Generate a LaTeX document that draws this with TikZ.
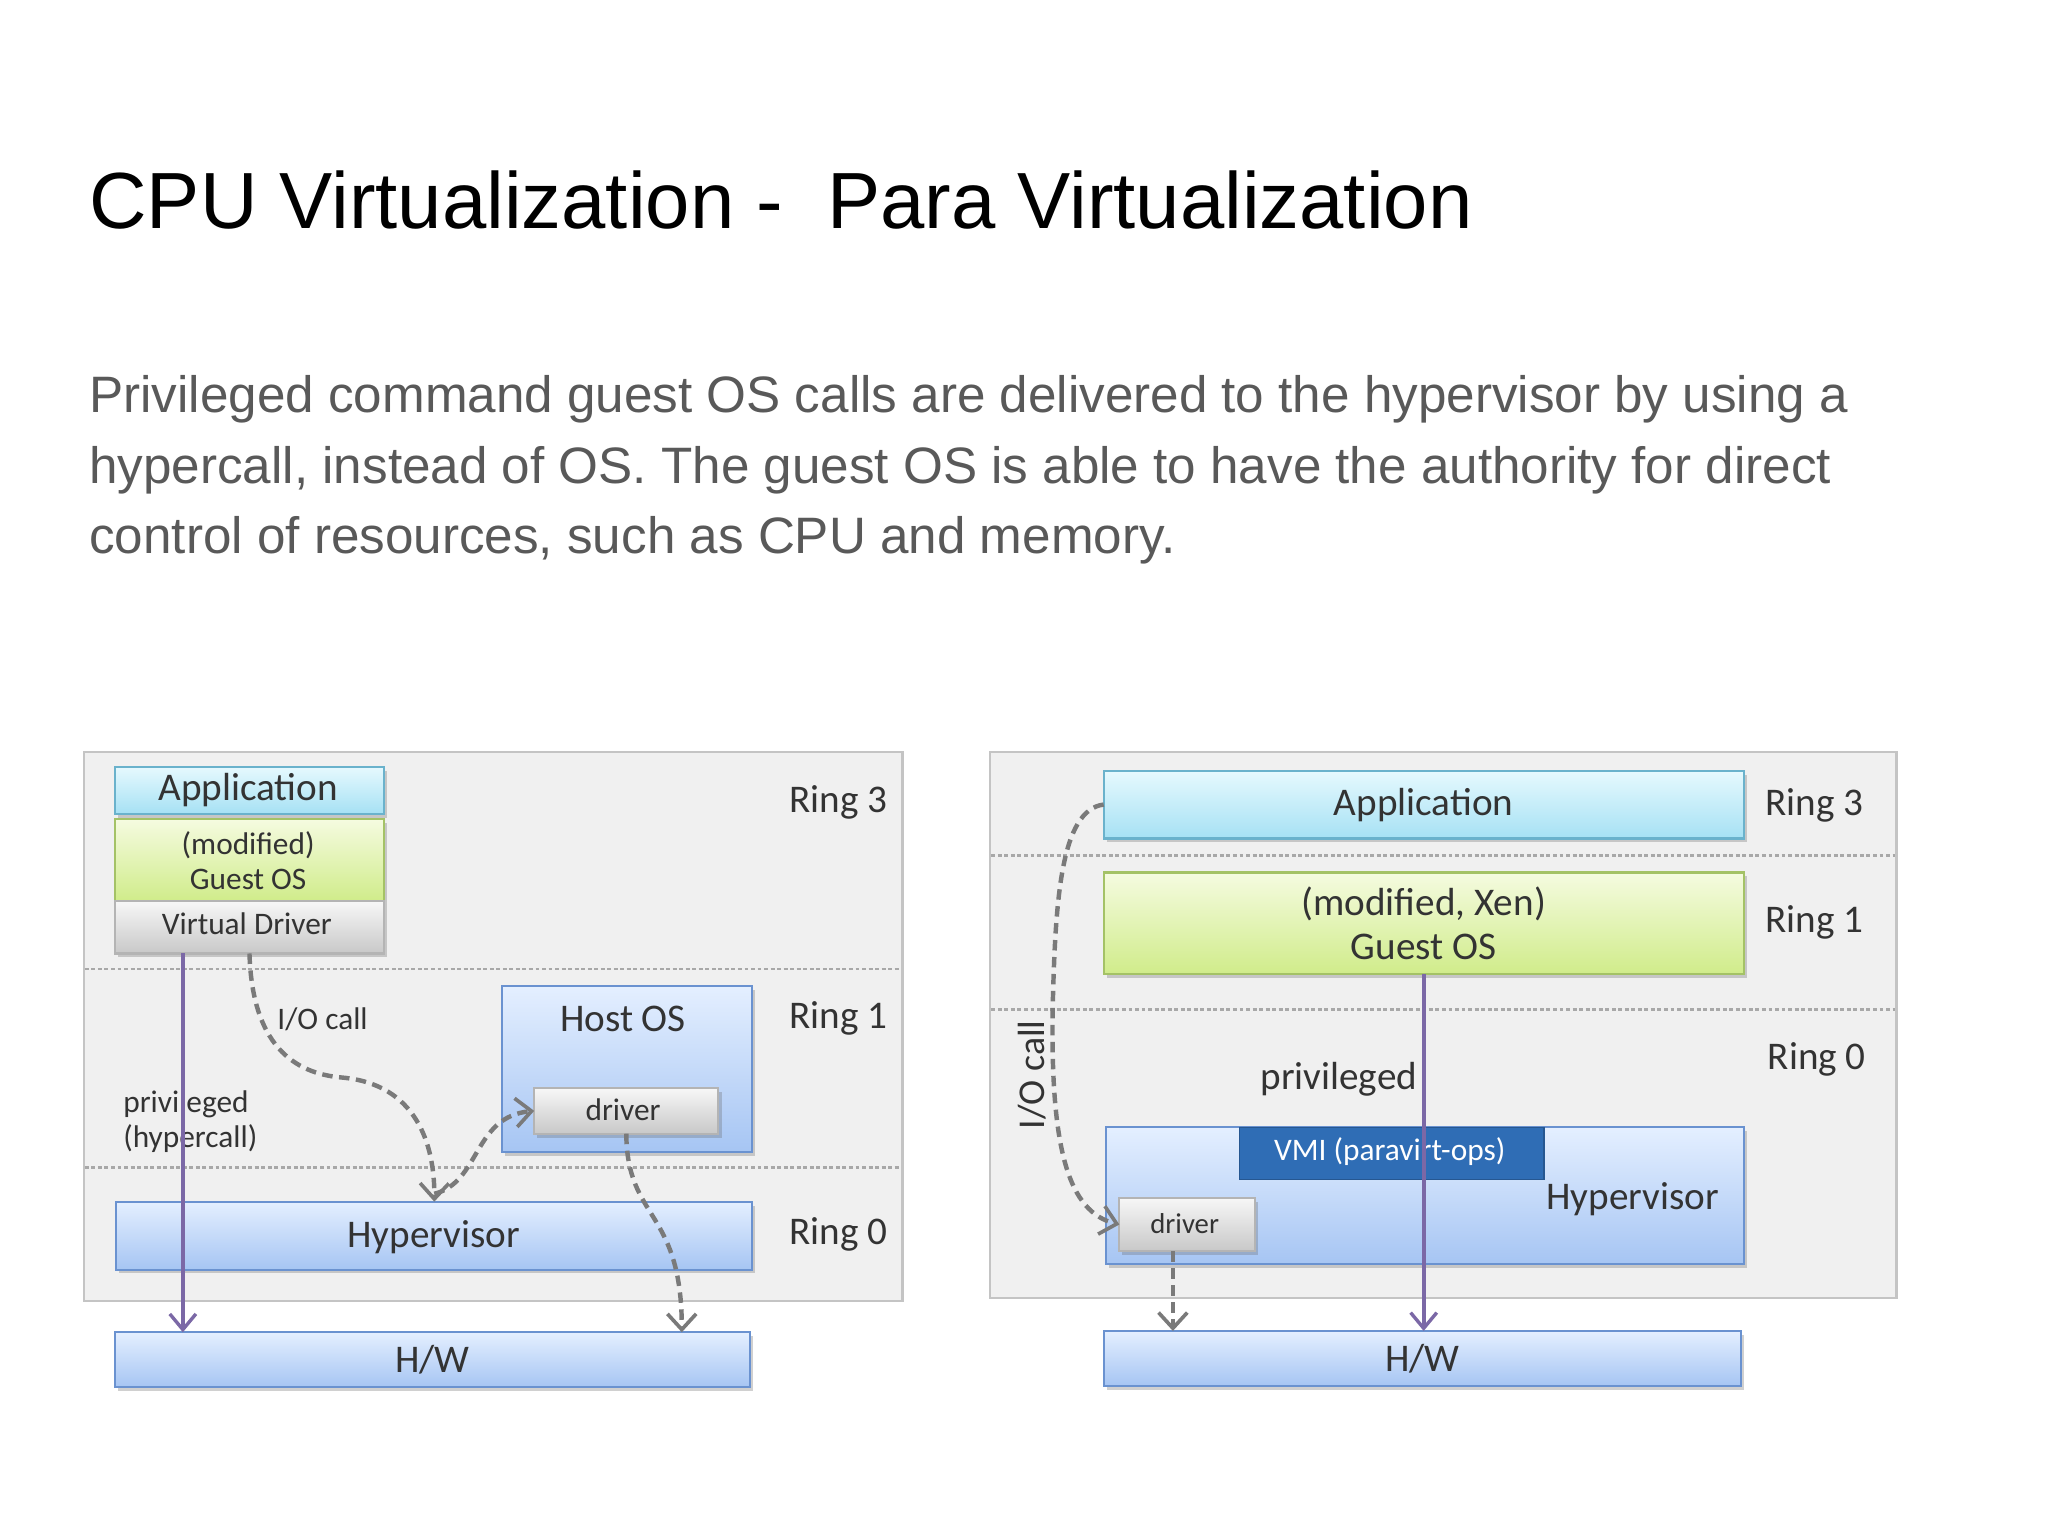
\documentclass[tikz,border=0pt]{standalone}
\usepackage{fontspec}
\setmainfont{Liberation Sans}
\newfontfamily\diag{Carlito}
\usetikzlibrary{arrows.meta,shadows}
\definecolor{panelfill}{HTML}{F0F0F0}
\definecolor{panelborder}{HTML}{C4C4C4}
\definecolor{apptop}{HTML}{E6F9FE}
\definecolor{appbot}{HTML}{A6E1F4}
\definecolor{appborder}{HTML}{6AB2CC}
\definecolor{guesttop}{HTML}{F5FBE0}
\definecolor{guestbot}{HTML}{D0EC8A}
\definecolor{guestborder}{HTML}{A4C266}
\definecolor{graytop}{HTML}{F7F7F7}
\definecolor{graybot}{HTML}{C8C8C8}
\definecolor{grayborder}{HTML}{B4B4B4}
\definecolor{bluetop}{HTML}{E4EFFF}
\definecolor{bluebot}{HTML}{A6C5F3}
\definecolor{blueborder}{HTML}{6A92D0}
\definecolor{vmiblue}{HTML}{2F6DB5}
\definecolor{purp}{HTML}{7B68A6}
\definecolor{dashgray}{HTML}{7A7A7A}
\definecolor{paragray}{HTML}{595959}
\definecolor{txt}{HTML}{333333}
\definecolor{seplinec}{HTML}{A8A8A8}
\tikzset{
  box/.style={inner sep=0pt, outer sep=0pt, line width=0.8pt,
    drop shadow={shadow xshift=1.2pt, shadow yshift=-1.5pt, opacity=0.3, fill=black!60}},
  appbox/.style={box, draw=appborder, top color=apptop, bottom color=appbot},
  guestbox/.style={box, draw=guestborder, top color=guesttop, bottom color=guestbot},
  graybox/.style={box, draw=grayborder, top color=graytop, bottom color=graybot},
  bluebox/.style={box, draw=blueborder, top color=bluetop, bottom color=bluebot},
  vmibox/.style={inner sep=0pt, outer sep=0pt, fill=vmiblue, draw=vmiblue!80!black, line width=0.5pt},
  panel/.style={fill=panelfill, draw=panelborder, line width=0.8pt},
  sepline/.style={draw=seplinec, line width=1pt, dash pattern=on 1.5pt off 1pt},
  lbl/.style={font=\diag\fontsize{15}{17}\selectfont, text=txt, inner sep=0pt},
  slbl/.style={font=\diag\fontsize{12}{13.5}\selectfont, text=txt, inner sep=0pt},
  privarrow/.style={draw=purp, line width=1.5pt, -{Straight Barb[length=6pt,width=10pt,line width=1.3pt]}},
  ioarrow/.style={draw=dashgray, line width=1.7pt, dash pattern=on 4pt off 2.5pt,
    -{Straight Barb[length=6pt,width=11pt,line width=1.4pt]}},
}
\begin{document}
\begin{tikzpicture}[x=0.5pt,y=-0.5pt]
\useasboundingbox[fill=white] (0,0) rectangle (1568,1176);

% Title and paragraph
\node[anchor=base west, inner sep=0pt, font=\fontsize{30.5}{36}\selectfont, text=black] (title) at (68,175) {CPU Virtualization -\ \ Para Virtualization};
\node[anchor=base west, inner sep=0pt, font=\fontsize{19.6}{27}\selectfont, text=paragray] (p1) at (68,316) {Privileged command guest OS calls are delivered to the hypervisor by using a};
\node[anchor=base west, inner sep=0pt, font=\fontsize{19.6}{27}\selectfont, text=paragray] (p2) at (68,370) {hypercall, instead of OS. The guest OS is able to have the authority for direct};
\node[anchor=base west, inner sep=0pt, font=\fontsize{19.6}{27}\selectfont, text=paragray] (p3) at (68,424) {control of resources, such as CPU and memory.};

% ===== Left panel =====
\path[panel] (64,576) rectangle (691,996);
\path[sepline] (65,742) -- (690,742);
\path[sepline] (65,894) -- (690,894);

\node[lbl] (r3L) at (642,614) {Ring 3};
\node[lbl] (r1L) at (642,780) {Ring 1};
\node[lbl] (r0L) at (642,945) {Ring 0};

\node[appbox, minimum width=103pt, minimum height=18pt] (appL) at (191,605) {};
\node[lbl] (appLt) at (190,605) {Application};
\node[guestbox, minimum width=103pt, minimum height=31.5pt] (guestL) at (191,658.5) {};
\node[slbl, align=center] (guestLt) at (190,659) {(modified)\\Guest OS};
\node[graybox, minimum width=103pt, minimum height=20pt] (vdrvL) at (191,710) {};
\node[slbl] (vdrvLt) at (189,707) {Virtual Driver};

\node[bluebox, minimum width=96pt, minimum height=63.5pt] (hostL) at (480,818.5) {};
\node[lbl] (hostLt) at (477,780) {Host OS};
\node[graybox, minimum width=70.5pt, minimum height=17.5pt] (drvL) at (479.5,850.5) {};
\node[slbl] (drvLt) at (477,850) {driver};

\node[bluebox, minimum width=243.5pt, minimum height=26pt] (hypL) at (332.5,946) {};
\node[lbl] (hypLt) at (332,947) {Hypervisor};
\node[bluebox, minimum width=243pt, minimum height=21pt] (hwL) at (331,1041) {};
\node[lbl] (hwLt) at (331,1041) {H/W};

\node[slbl, anchor=west, align=left] (privL) at (94,858.5) {privileged\\(hypercall)};
\node[slbl, anchor=west] (ioL) at (212,780) {I/O call};

\draw[privarrow] ([xshift=26pt]vdrvL.south west) -- ([xshift=26pt]hwL.north west);
\draw[ioarrow] (vdrvL.south) .. controls (193,800) and (225,822) .. (262,825)
   .. controls (318,830) and (333,875) .. (hypL.north);
\draw[ioarrow] ([yshift=3pt]hypL.north) .. controls (368,905) and (362,855) .. (drvL.west);
\draw[ioarrow] (drvL.south) .. controls (480,935) and (522,925) .. ([xshift=95.5pt]hwL.north);

% ===== Right panel =====
\path[panel] (758,576) rectangle (1452,994);
\path[sepline] (759,655) -- (1451,655);
\path[sepline] (759,773) -- (1451,773);

\node[lbl] (r3R) at (1389,617) {Ring 3};
\node[lbl] (r1R) at (1389,706) {Ring 1};
\node[lbl] (r0R) at (1391,811) {Ring 0};

\node[appbox, minimum width=245pt, minimum height=26pt] (appR) at (1090,616) {};
\node[lbl] (appRt) at (1090,616) {Application};
\node[guestbox, minimum width=245pt, minimum height=39pt] (guestR) at (1090,707) {};
\node[lbl, align=center] (guestRt) at (1090,707) {(modified, Xen)\\Guest OS};

\node[lbl] (privR) at (1025,826) {privileged};

\node[bluebox, minimum width=244pt, minimum height=52.5pt] (hypR) at (1091,915.5) {};
\node[lbl] (hypRt) at (1250,918) {Hypervisor};
\node[vmibox, minimum width=116.5pt, minimum height=20pt] (vmiR) at (1065.5,883) {};
\node[slbl, text=white] (vmiRt) at (1064,882) {VMI (paravirt-ops)};
\node[graybox, minimum width=52pt, minimum height=20.5pt] (drvR) at (909,937.5) {};
\node[slbl, font=\diag\fontsize{11}{13}\selectfont] (drvRt) at (907,937) {driver};

\node[bluebox, minimum width=244pt, minimum height=21pt] (hwR) at (1089,1040) {};
\node[lbl] (hwRt) at (1089,1040) {H/W};

\node[lbl, rotate=90, font=\diag\fontsize{14.5}{17}\selectfont] (ioR) at (790,823) {I/O call};

\draw[privarrow] (guestR.south) -- (guestR.south |- hwR.north);
\draw[ioarrow] (appR.west) .. controls (812,620) and (808,690) .. (806,770)
   .. controls (804,880) and (818,928) .. (drvR.west);
\draw[ioarrow] ([xshift=-5.5pt]drvR.south) -- ([xshift=-5.5pt]drvR.south |- hwR.north);
\end{tikzpicture}
\end{document}
